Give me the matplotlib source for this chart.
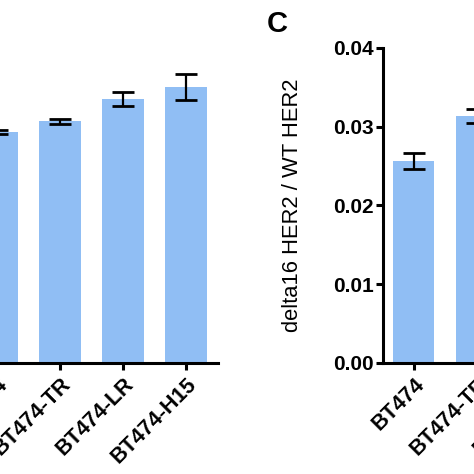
import matplotlib
matplotlib.use("Agg")
import matplotlib.pyplot as plt

plt.rcParams['font.family'] = ['Liberation Sans', 'DejaVu Sans']

# cell lines (same in both panels)
lines = ['BT474', 'BT474-TR', 'BT474-LR', 'BT474-H15']

# panel B (left, only partly visible)
b_vals = [0.0293, 0.0307, 0.0335, 0.0350]
b_err = [0.00025, 0.00032, 0.00089, 0.00165]

# panel C (right, only partly visible)
c_vals = [0.0257, 0.0314, 0.0340, 0.0360]
c_err = [0.00102, 0.00089, 0.0010, 0.0012]

bar_color = '#90BEF4'
lw = 2.2

fig = plt.figure(figsize=(4.74, 4.74), dpi=100)

def style(ax):
    for s in ['top', 'right']:
        ax.spines[s].set_visible(False)
    ax.spines['left'].set_linewidth(lw)
    ax.spines['bottom'].set_linewidth(lw)
    ax.tick_params(axis='both', length=5, width=lw, pad=1.5)
    ax.tick_params(axis='y', labelsize=15)
    ax.tick_params(axis='x', labelsize=15.5, pad=3)
    for lab in ax.get_xticklabels() + ax.get_yticklabels():
        lab.set_fontweight('bold')

# left panel
axB = fig.add_axes([-0.0738, 0.2342, 0.5338, 0.6646])
x = range(len(lines))
axB.bar(x, b_vals, width=0.667, color=bar_color, zorder=1)
axB.errorbar(x, b_vals, yerr=b_err, fmt='none', ecolor='black',
             elinewidth=1.6, capsize=8, capthick=2, zorder=2)
axB.set_xlim(-0.51, 3.51)
axB.set_ylim(0, 0.04)
axB.set_xticks(list(x))
axB.set_xticklabels(lines, rotation=45, ha='right', rotation_mode='anchor')
style(axB)

# right panel
axC = fig.add_axes([0.808, 0.2342, 0.5295, 0.6646])
axC.bar(x, c_vals, width=0.65, color=bar_color, zorder=1)
axC.errorbar(x, c_vals, yerr=c_err, fmt='none', ecolor='black',
             elinewidth=1.6, capsize=8, capthick=2, zorder=2)
axC.set_xlim(-0.49, 3.49)
axC.set_ylim(0, 0.04)
axC.set_yticks([0, 0.01, 0.02, 0.03, 0.04])
axC.set_yticklabels(['%.2f' % v for v in [0, 0.01, 0.02, 0.03, 0.04]])
axC.set_xticks(list(x))
axC.set_xticklabels(lines, rotation=45, ha='right', rotation_mode='anchor')
axC.set_ylabel('delta16 HER2 / WT HER2', fontsize=15.8, labelpad=22)
style(axC)

fig.text(267 / 474, 1 - 10 / 474, 'C', fontsize=21, fontweight='bold', va='top', ha='left')

fig.savefig('out.png', dpi=100)
